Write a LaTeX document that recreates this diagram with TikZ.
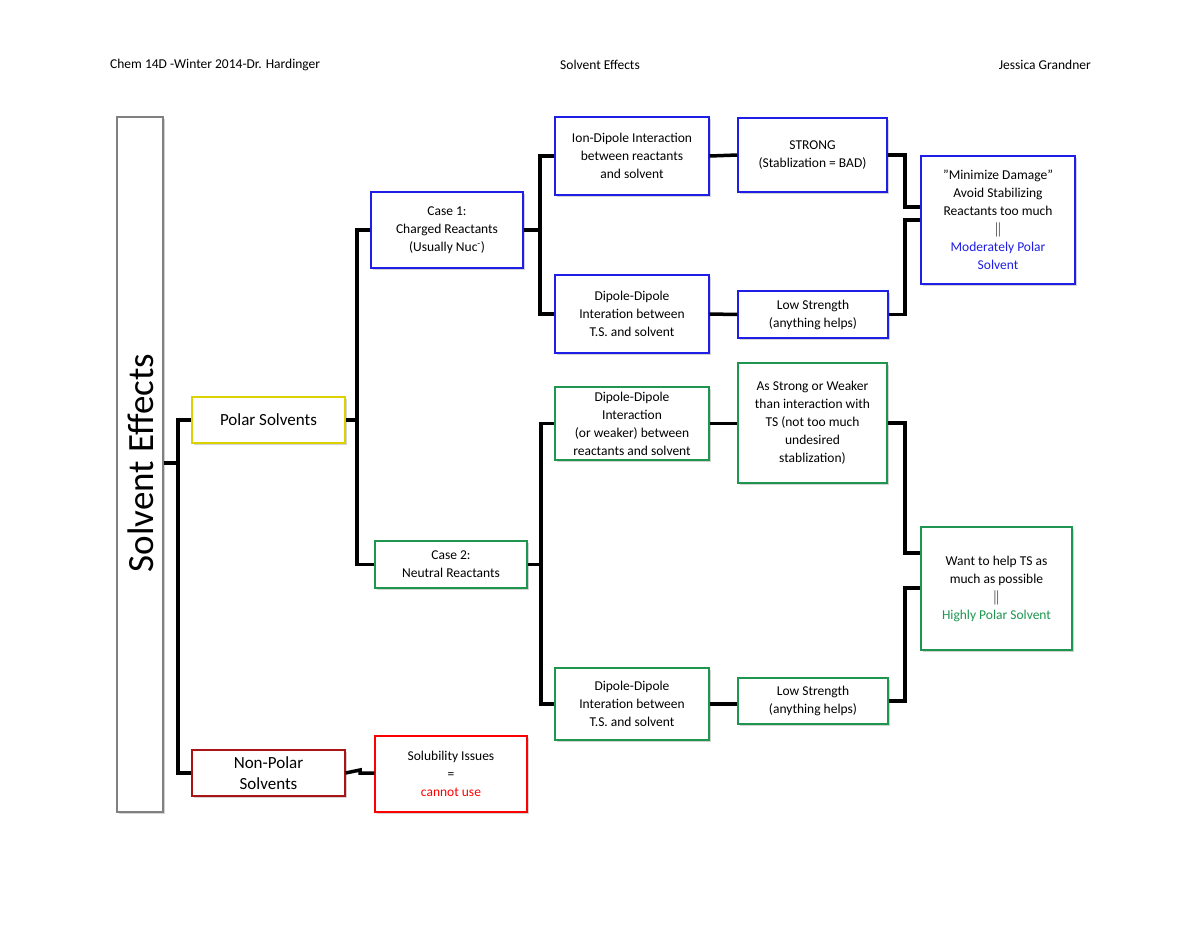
\documentclass[tikz,border=0pt]{standalone}
\usepackage{fontspec}
\setmainfont{Carlito}
\usetikzlibrary{shadows}
\definecolor{bl}{RGB}{30,30,230}
\definecolor{gr}{RGB}{30,150,80}
\definecolor{yl}{RGB}{220,210,0}
\definecolor{dr}{RGB}{170,20,20}
\begin{document}
\begin{tikzpicture}[x=1pt,y=-1pt,
  box/.style={draw,line width=1.2pt,fill=white,align=center,inner sep=1pt,
    font=\fontsize{13.5}{18}\selectfont,
    drop shadow={opacity=.35,shadow xshift=1.5pt,shadow yshift=-1.5pt}},
  conn/.style={line width=3.5pt,line join=miter},
  hdr/.style={font=\fontsize{13.5}{16}\selectfont,inner sep=0pt}]
\useasboundingbox (0,0) rectangle (1200,927);
\node[hdr,anchor=west] (h1) at (110,65) {Chem 14D -Winter 2014-Dr. Hardinger};
\node[hdr] (h2) at (600,65) {Solvent Effects};
\node[hdr,anchor=east] (h3) at (1091,65) {Jessica Grandner};
% boxes
\node[box,draw=gray,minimum width=46,minimum height=695] (se) at (140,464.5) {};
\node[rotate=90,font=\fontsize{37}{40}\selectfont] (set) at (141,463) {Solvent Effects};
\node[box,draw=yl,minimum width=153,minimum height=46,font=\fontsize{17}{20}\selectfont] (ps) at (268.5,420) {Polar Solvents};
\node[box,draw=dr,minimum width=153,minimum height=46,font=\fontsize{17}{21}\selectfont] (nps) at (268.5,773) {Non-Polar\\Solvents};
\node[box,draw=bl,minimum width=152,minimum height=76] (c1) at (447,230) {Case 1:\\Charged Reactants\\(Usually Nuc\textsuperscript{-})};
\node[box,draw=gr,minimum width=152,minimum height=47] (c2) at (451,564.5) {Case 2:\\Neutral Reactants};
\node[box,draw=bl,minimum width=154,minimum height=78] (ion) at (632,156) {Ion-Dipole Interaction\\between reactants\\and solvent};
\node[box,draw=bl,minimum width=154,minimum height=78] (dd1) at (632,314) {Dipole-Dipole\\Interation between\\T.S. and solvent};
\node[box,draw=bl,minimum width=149,minimum height=74] (st) at (812.5,155) {STRONG\\(Stablization = BAD)};
\node[box,draw=bl,minimum width=150,minimum height=47] (ls1) at (813,314.5) {Low Strength\\(anything helps)};
\node[box,draw=bl,minimum width=154,minimum height=128] (md) at (998,220) {"Minimize Damage"\\Avoid Stabilizing\\Reactants too much\\$\Vert$\\\textcolor{bl}{Moderately Polar}\\\textcolor{bl}{Solvent}};
\node[box,draw=gr,minimum width=154,minimum height=73] (dd2) at (632,423.5) {Dipole-Dipole\\Interaction\\(or weaker) between\\reactants and solvent};
\node[box,draw=gr,minimum width=149,minimum height=120] (as) at (812.5,423) {As Strong or Weaker\\than interaction with\\TS (not too much\\undesired\\stablization)};
\node[box,draw=gr,minimum width=151,minimum height=123] (wh) at (996.5,588.5) {Want to help TS as\\much as possible\\$\Vert$\\\textcolor{gr}{Highly Polar Solvent}};
\node[box,draw=gr,minimum width=154,minimum height=72] (dd3) at (632,704) {Dipole-Dipole\\Interation between\\T.S. and solvent};
\node[box,draw=gr,minimum width=150,minimum height=46] (ls2) at (813,701) {Low Strength\\(anything helps)};
\node[box,draw=red,minimum width=152,minimum height=76] (sol) at (451,774) {Solubility Issues\\=\\\textcolor{red}{cannot use}};
% connectors
\draw[conn] (se.east |- 0,463) -- (178,463) |- (ps.west);
\draw[conn] (178,463) |- (nps.west);
\draw[conn] (ps.east) -- (357,420) |- (c1.west);
\draw[conn] (357,420) |- (c2.west);
\draw[conn] (c1.east) -- (540,230) |- (ion.west);
\draw[conn] (540,230) |- (dd1.west);
\draw[conn] (ion.east) -- (st.west);
\draw[conn] (dd1.east) -- (ls1.west);
\draw[conn] (st.east) -- (905,155) |- (md.west |- 0,207);
\draw[conn] (ls1.east) -- (905,314.5) |- (md.west |- 0,220);
\draw[conn] (c2.east) -- (541,564.5) |- (dd2.west);
\draw[conn] (541,564.5) |- (dd3.west);
\draw[conn] (dd2.east) -- (as.west |- dd2.east);
\draw[conn] (dd3.east) -- (ls2.west |- dd3.east);
\draw[conn] (as.east) -- (905,423) |- (wh.west |- 0,553);
\draw[conn] (ls2.east) -- (905,701) |- (wh.west |- 0,588);
\draw[conn] (nps.east) -- (360,770) -- (360,773) -- (sol.west |- 0,773);
\end{tikzpicture}
\end{document}
